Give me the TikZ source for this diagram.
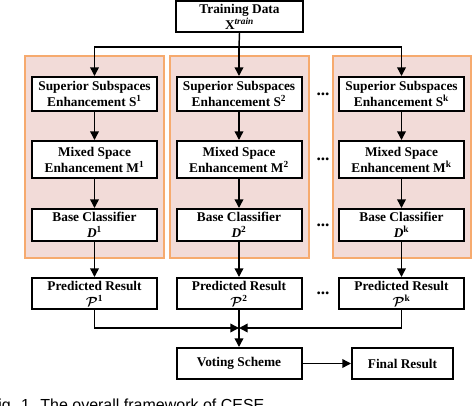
\documentclass[tikz,border=0pt]{standalone}
\usepackage{fontspec}
\setmainfont{Liberation Serif}
\setsansfont{Liberation Sans}
\usetikzlibrary{arrows.meta}

\definecolor{panelfill}{RGB}{242,219,216}
\definecolor{paneldraw}{RGB}{246,170,110}

\tikzset{every picture/.style={line width=0.75pt}}
\tikzset{
  blk/.style={draw, line width=1.5pt, fill=white, inner sep=0.75pt, align=center,
    minimum width=93.75pt, font=\bfseries\fontsize{10}{12}\selectfont},
  flow/.style={line width=1.1pt, -{Triangle[length=6.5pt,width=6.5pt]}},
  plain/.style={line width=1.1pt},
  panel/.style={draw=paneldraw, fill=panelfill, line width=1.5pt},
  gap/.style={font=\bfseries\fontsize{13}{14}\selectfont, inner sep=0pt}
}

\begin{document}
\begin{tikzpicture}[x=0.75pt,y=0.75pt,yscale=-1,xscale=1]
		\useasboundingbox (0,0) rectangle (474,406);
		
		%Shape: Rectangle [id:panel1] 
		\draw  [panel] (25,56.5) rectangle (164,258) ;
		%Shape: Rectangle [id:panel2] 
		\draw  [panel] (170,56.5) rectangle (309,258) ;
		%Shape: Rectangle [id:panel3] 
		\draw  [panel] (333,56.5) rectangle (471,258) ;
		
		% Text Node
		\node (train) [blk, minimum width=95.25pt, minimum height=23.25pt] at (239.5,16.5) {Training Data\\X\textsuperscript{\textit{train}}};
		
		% Text Node
		\node (sup1) [blk, minimum height=25.5pt] at (94.5,94) {Superior Subspaces\\Enhancement S\textsuperscript{1}};
		% Text Node
		\node (sup2) [blk, minimum height=25.5pt] at (239,94) {Superior Subspaces\\Enhancement S\textsuperscript{2}};
		% Text Node
		\node (supk) [blk, minimum height=25.5pt] at (401.5,94) {Superior Subspaces\\Enhancement S\textsuperscript{k}};
		
		% Text Node
		\node (mix1) [blk, minimum height=27.75pt] at (94.5,159.5) {Mixed Space\\Enhancement M\textsuperscript{1}};
		% Text Node
		\node (mix2) [blk, minimum height=27.75pt] at (239,159.5) {Mixed Space\\Enhancement M\textsuperscript{2}};
		% Text Node
		\node (mixk) [blk, minimum height=27.75pt] at (401.5,159.5) {Mixed Space\\Enhancement M\textsuperscript{k}};
		
		% Text Node
		\node (base1) [blk, minimum height=24pt] at (94.5,225) {Base Classifier\\\textit{D}\textsuperscript{1}};
		% Text Node
		\node (base2) [blk, minimum height=24pt] at (239,225) {Base Classifier\\\textit{D}\textsuperscript{2}};
		% Text Node
		\node (basek) [blk, minimum height=24pt] at (401.5,225) {Base Classifier\\\textit{D}\textsuperscript{k}};
		
		% Text Node
		\node (pred1) [blk, minimum height=23.25pt] at (94.5,293.5) {Predicted Result\\{\boldmath$\mathcal{P}$}\textsuperscript{1}};
		% Text Node
		\node (pred2) [blk, minimum height=23.25pt] at (239,293.5) {Predicted Result\\{\boldmath$\mathcal{P}$}\textsuperscript{2}};
		% Text Node
		\node (predk) [blk, minimum height=23.25pt] at (401.5,293.5) {Predicted Result\\{\boldmath$\mathcal{P}$}\textsuperscript{k}};
		
		% Text Node
		\node (vote) [blk, minimum height=23.25pt] at (239,363.5) {Voting Scheme};
		% Text Node
		\node (final) [blk, minimum width=75.75pt, minimum height=23.25pt] at (402.5,363.5) {Final Result};
		
		% Text Node
		\node (dots1) [gap] at (323,94) {...};
		% Text Node
		\node (dots2) [gap] at (323,159.5) {...};
		% Text Node
		\node (dots3) [gap] at (323,225) {...};
		% Text Node
		\node (dots4) [gap] at (323,293.5) {...};
		
		\coordinate (split) at (239,47);
		\coordinate (merge) at (239,328);
		
		%Straight Lines [id:split] 
		\draw  [plain] (train.south) -- (split) ;
		\draw  [flow] (split) -| (sup1.north) ;
		\draw  [flow] (split) -- (sup2.north) ;
		\draw  [flow] (split) -| (supk.north) ;
		%Straight Lines [id:column1] 
		\draw  [flow] (sup1) -- (mix1) ;
		\draw  [flow] (mix1) -- (base1) ;
		\draw  [flow] (base1) -- (pred1) ;
		%Straight Lines [id:column2] 
		\draw  [flow] (sup2) -- (mix2) ;
		\draw  [flow] (mix2) -- (base2) ;
		\draw  [flow] (base2) -- (pred2) ;
		%Straight Lines [id:column3] 
		\draw  [flow] (supk) -- (mixk) ;
		\draw  [flow] (mixk) -- (basek) ;
		\draw  [flow] (basek) -- (predk) ;
		%Straight Lines [id:merge] 
		\draw  [flow] (pred1.south) |- (merge) ;
		\draw  [flow] (predk.south) |- (merge) ;
		\draw  [plain] (pred2.south) -- (merge) ;
		\draw  [flow] (merge) -- (vote.north) ;
		\draw  [flow] (vote) -- (final) ;
		
		% Text Node
		\node (caption) [anchor=base west, inner sep=0pt, font=\sffamily\fontsize{12}{14}\selectfont] at (-12,410.5) {Fig. 1. The overall framework of CESE.};
		
	\end{tikzpicture}
\end{document}
